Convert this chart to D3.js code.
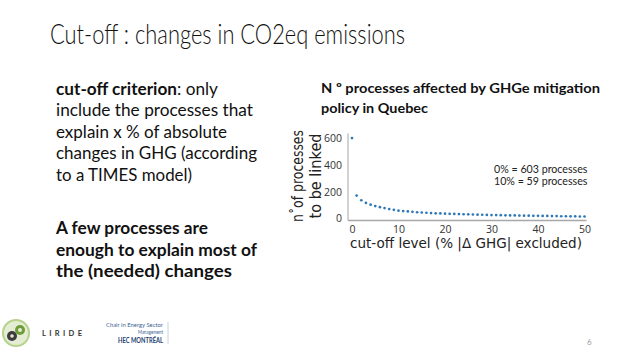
<!DOCTYPE html>
<html><head><meta charset="utf-8">
<script src="https://cdn.jsdelivr.net/npm/d3@7"></script>
<style>html,body{margin:0;padding:0;background:#fff;}svg{display:block;}</style>
</head><body>
<script>
// ---- data ----
const cutoffLevels = d3.range(0, 51); // 0..50 % excluded
const processCounts = [603,172,137,117,104,93,85,78,71,65,
  59,56,53,50,47,45,43,41,39,38,
  36,35,34,33,32,31,30,29,28,27,
  26,26,25,24,23,23,22,21,21,20,
  20,19,19,18,18,17,17,16,16,15,15];
const xTicks = [0,10,20,30,40,50];
const yTicks = [0,200,400,600];
const slideTitle = "Cut-off : changes in CO2eq emissions";
const chartTitle = ["N º processes affected by GHGe mitigation", "policy in Quebec"];
const yLabel = ["n˚of processes", "to be linked"];
const xLabel = "cut-off level (% |Δ GHG| excluded)";
const notes = ["0% = 603 processes", "10% = 59 processes"];

const W = 638, H = 359;
const svg = d3.select("body").append("svg").attr("width", W).attr("height", H);
svg.append("rect").attr("width", W).attr("height", H).attr("fill", "#fff");

const sans = "Lato, 'Open Sans', sans-serif";
const dv = "'DejaVu Sans', Verdana, sans-serif";

// slide title
svg.append("text").attr("x", 50).attr("y", 44).attr("font-family", sans).attr("font-weight", 300)
  .attr("font-size", 28).attr("fill", "#111").attr("textLength", 355).attr("lengthAdjust", "spacingAndGlyphs")
  .text(slideTitle);

// left text
const leftLines = [
  {y: 95, w: 162, parts: [["cut-off criterion", 700], [": only", 400]]},
  {y: 116, w: 197, parts: [["include the processes that", 400]]},
  {y: 138, w: 171, parts: [["explain x % of absolute", 400]]},
  {y: 159, w: 201, parts: [["changes in GHG (according", 400]]},
  {y: 181, w: 136, parts: [["to a TIMES model)", 400]]},
  {y: 234, w: 152, parts: [["A few processes are", 700]]},
  {y: 256, w: 201, parts: [["enough to explain most of", 700]]},
  {y: 277, w: 176, parts: [["the (needed) changes", 700]]}
];
leftLines.forEach(l => {
  const t = svg.append("text").attr("x", 56).attr("y", l.y).attr("font-family", sans)
    .attr("font-size", 16.5).attr("fill", "#111").attr("textLength", l.w).attr("lengthAdjust", "spacingAndGlyphs");
  l.parts.forEach(p => t.append("tspan").attr("font-weight", p[1]).text(p[0]));
});

// chart title
svg.append("text").attr("x", 321).attr("y", 93).attr("font-family", sans).attr("font-weight", 700)
  .attr("font-size", 13.5).attr("fill", "#111").attr("textLength", 279).attr("lengthAdjust", "spacingAndGlyphs")
  .text(chartTitle[0]);
svg.append("text").attr("x", 321).attr("y", 113).attr("font-family", sans).attr("font-weight", 700)
  .attr("font-size", 13.5).attr("fill", "#111").attr("textLength", 107).attr("lengthAdjust", "spacingAndGlyphs")
  .text(chartTitle[1]);

// scales
const x = d3.scaleLinear().domain([0, 50]).range([352, 584.5]);
const y = d3.scaleLinear().domain([0, 600]).range([218.5, 138.5]);

// axis lines
svg.append("line").attr("x1", 348).attr("x2", 348).attr("y1", y(637)).attr("y2", 220.5)
  .attr("stroke", "#b5b5b5").attr("stroke-width", 1.2);
svg.append("line").attr("x1", 348).attr("x2", 586.5).attr("y1", 220.5).attr("y2", 220.5)
  .attr("stroke", "#a8a8a8").attr("stroke-width", 1.6);

// axes via d3 (labels only)
const yAxis = svg.append("g").attr("transform", "translate(348,0)")
  .call(d3.axisLeft(y).tickValues(yTicks).tickSize(0).tickPadding(6));
const xAxis = svg.append("g").attr("transform", "translate(0,220.5)")
  .call(d3.axisBottom(x).tickValues(xTicks).tickSize(0).tickPadding(5));
[yAxis, xAxis].forEach(g => {
  g.select(".domain").remove();
  g.selectAll("text").attr("font-family", "'Open Sans', sans-serif").attr("font-size", 10.5).attr("fill", "#333");
});

// points
svg.append("g").selectAll("circle").data(cutoffLevels).join("circle")
  .attr("cx", d => x(d)).attr("cy", (d, i) => y(processCounts[i]))
  .attr("r", 1.35).attr("fill", "#2e78b7");

// axis labels
svg.append("text").attr("transform", "translate(302.5,176) rotate(-90)").attr("text-anchor", "middle")
  .attr("font-family", dv).attr("font-size", 15).attr("fill", "#222")
  .attr("textLength", 92).attr("lengthAdjust", "spacingAndGlyphs").text(yLabel[0]);
svg.append("text").attr("transform", "translate(321,176) rotate(-90)").attr("text-anchor", "middle")
  .attr("font-family", dv).attr("font-size", 15).attr("fill", "#222")
  .attr("textLength", 85).attr("lengthAdjust", "spacingAndGlyphs").text(yLabel[1]);
svg.append("text").attr("x", 350).attr("y", 248).attr("font-family", dv).attr("font-size", 14.5)
  .attr("fill", "#222").attr("textLength", 232).attr("lengthAdjust", "spacingAndGlyphs").text(xLabel);

// notes
notes.forEach((n, i) => {
  svg.append("text").attr("x", 494).attr("y", 173 + i * 11.5).attr("font-family", sans)
    .attr("font-size", 10.5).attr("fill", "#222").attr("textLength", 93.5).attr("lengthAdjust", "spacingAndGlyphs").text(n);
});

// page number
svg.append("text").attr("x", 587).attr("y", 345).attr("font-family", sans).attr("font-size", 8)
  .attr("fill", "#999").text("6");

// logos
const logo = svg.append("g");
logo.append("circle").attr("cx", 16).attr("cy", 333).attr("r", 13).attr("fill", "#e4ecd4")
  .attr("stroke", "#b5d38a").attr("stroke-width", 2);
logo.append("circle").attr("cx", 12).attr("cy", 336).attr("r", 5).attr("fill", "#3d3d3d");
logo.append("circle").attr("cx", 20).attr("cy", 330).attr("r", 5).attr("fill", "#6e9d38");
logo.append("circle").attr("cx", 20).attr("cy", 330).attr("r", 2).attr("fill", "#e4ecd4");
logo.append("circle").attr("cx", 12).attr("cy", 336).attr("r", 1.8).attr("fill", "#e4ecd4");
svg.append("text").attr("x", 42).attr("y", 336).attr("font-family", sans).attr("font-weight", 700)
  .attr("font-size", 7.5).attr("fill", "#333").attr("textLength", 40).attr("lengthAdjust", "spacing").text("LIRIDE");
const hec = [["Chair in Energy Sector", 327, 400, 57], ["Management", 334, 400, 25], ["HEC MONTRÉAL", 342.5, 700, 45]];
hec.forEach(h => {
  svg.append("text").attr("x", 163).attr("y", h[1]).attr("text-anchor", "end").attr("font-family", sans)
    .attr("font-weight", h[2]).attr("font-size", 6.5).attr("fill", h[2] === 700 ? "#1d3f6e" : "#3d6596")
    .attr("textLength", h[3]).attr("lengthAdjust", "spacingAndGlyphs").text(h[0]);
});
svg.append("line").attr("x1", 168).attr("x2", 168).attr("y1", 322).attr("y2", 344)
  .attr("stroke", "#b8c8dc").attr("stroke-width", 0.8);
</script>
</body></html>
